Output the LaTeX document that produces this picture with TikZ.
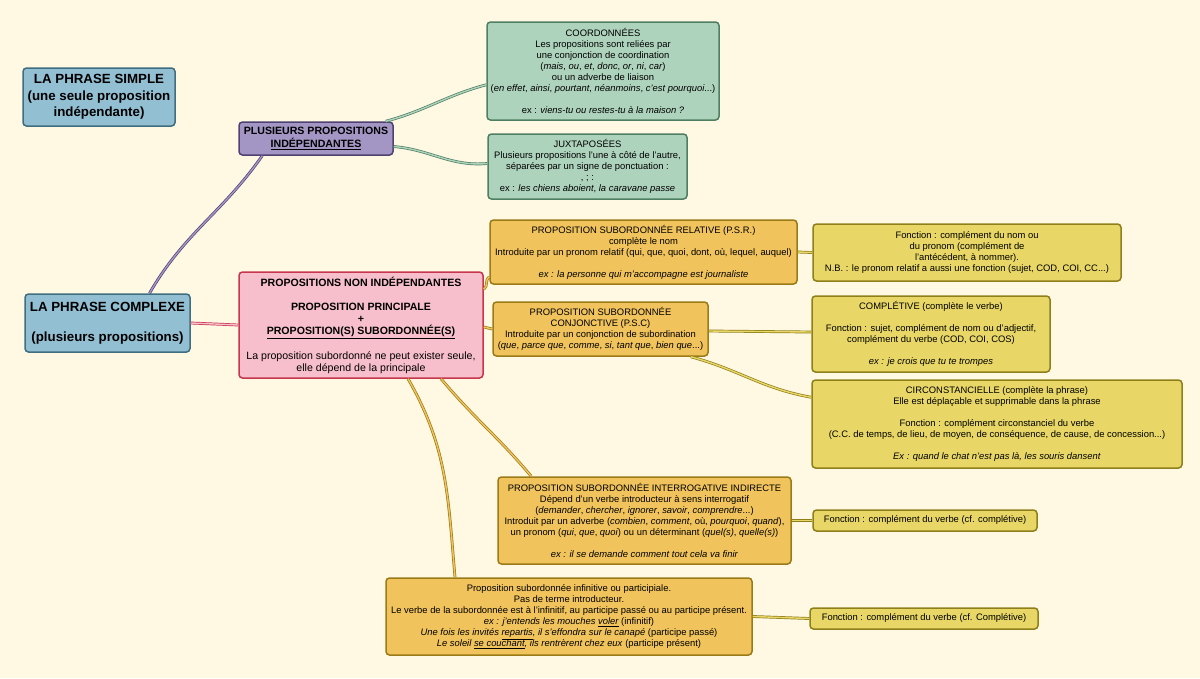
\documentclass[tikz,border=0pt]{standalone}
\usepackage{fontspec}
\setmainfont{Liberation Sans}
\usetikzlibrary{calc}
\definecolor{bgc}{HTML}{FFF8E3}
\definecolor{blueF}{HTML}{93BFD3}\definecolor{blueD}{HTML}{3F6E80}
\definecolor{purF}{HTML}{A496C4}\definecolor{purD}{HTML}{4E4272}
\definecolor{grnF}{HTML}{AED3BC}\definecolor{grnD}{HTML}{4F7F62}
\definecolor{pinkF}{HTML}{F7BFCB}\definecolor{pinkD}{HTML}{C7354F}
\definecolor{orgF}{HTML}{F0C35D}\definecolor{orgD}{HTML}{9B7B17}
\definecolor{yelF}{HTML}{E8D767}\definecolor{yelD}{HTML}{8F7F1A}
\tikzset{
  box/.style={rectangle, rounded corners=3.5pt, line width=1.5pt, inner sep=0pt, align=center,
    font=\fontsize{9.4}{11}\selectfont},
  bluebox/.style={box, fill=blueF, draw=blueD},
  purbox/.style={box, fill=purF, draw=purD},
  grnbox/.style={box, fill=grnF, draw=grnD},
  pinkbox/.style={box, fill=pinkF, draw=pinkD},
  orgbox/.style={box, fill=orgF, draw=orgD},
  yelbox/.style={box, fill=yelF, draw=yelD},
  conn/.style 2 args={draw=#1, double=#2, line width=0.7pt, double distance=1.4pt},
}
\begin{document}
\begin{tikzpicture}[x=1pt,y=-1pt]
\fill[bgc] (0,0) rectangle (1200,678);
\useasboundingbox (0,0) rectangle (1200,678);

\node[bluebox, minimum width=152, minimum height=58, font=\bfseries\fontsize{13.3}{16.5}\selectfont] (simple) at (99,97)
  {LA PHRASE SIMPLE\\(une seule proposition\\indépendante)};

\node[purbox, minimum width=154, minimum height=33, font=\bfseries\fontsize{10.6}{13}\selectfont] (plus) at (316,138.5)
  {PLUSIEURS PROPOSITIONS\\\underline{INDÉPENDANTES}};

\node[grnbox, minimum width=232, minimum height=98] (coord) at (603,71)
  {COORDONNÉES\\Les propositions sont reliées par\\une conjonction de coordination\\
   (\textit{mais}, \textit{ou}, \textit{et}, \textit{donc}, \textit{or}, \textit{ni}, \textit{car})\\
   ou un adverbe de liaison\\
   (\textit{en effet}, \textit{ainsi}, \textit{pourtant}, \textit{néanmoins}, \textit{c'est pourquoi}...)\\[11pt]
   ex : \textit{viens-tu ou restes-tu à la maison ?}};

\node[grnbox, minimum width=199, minimum height=65] (juxt) at (587.5,166.5)
  {JUXTAPOSÉES\\Plusieurs propositions l'une à côté de l'autre,\\séparées par un signe de ponctuation :\\, ; :\\
   ex : \textit{les chiens aboient}, \textit{la caravane passe}};

\node[bluebox, minimum width=165, minimum height=58, font=\bfseries\fontsize{13.3}{15.5}\selectfont] (complexe) at (107.5,323)
  {LA PHRASE COMPLEXE\\[15pt](plusieurs propositions)};

\node[pinkbox, minimum width=244, minimum height=106, font=\fontsize{10.6}{12}\selectfont] (nonind) at (361,325)
  {\textbf{PROPOSITIONS NON INDÉPENDANTES}\\[12pt]\textbf{PROPOSITION PRINCIPALE}\\\textbf{+}\\
   \textbf{\underline{PROPOSITION(S) SUBORDONNÉE(S)}}\\[12pt]
   La proposition subordonné ne peut exister seule,\\elle dépend de la principale};

\node[orgbox, minimum width=307, minimum height=64] (psr) at (643.5,252)
  {PROPOSITION SUBORDONNÉE RELATIVE (P.S.R.)\\complète le nom\\
   Introduite par un pronom relatif (qui, que, quoi, dont, où, lequel, auquel)\\[11pt]
   \textit{ex : la personne qui m'accompagne est journaliste}};

\node[orgbox, minimum width=215, minimum height=54] (psc) at (600.5,329)
  {PROPOSITION SUBORDONNÉE\\CONJONCTIVE (P.S.C)\\Introduite par un conjonction de subordination\\
   (\textit{que}, \textit{parce que}, \textit{comme}, \textit{si}, \textit{tant que}, \textit{bien que}...)};

\node[yelbox, minimum width=308, minimum height=57] (relf) at (967,252.5)
  {Fonction : complément du nom ou\\du pronom (complément de\\l'antécédent, à nommer).\\
   N.B. : le pronom relatif a aussi une fonction (sujet, COD, COI, CC...)};

\node[yelbox, minimum width=238, minimum height=76] (compl) at (931,334)
  {COMPLÉTIVE (complète le verbe)\\[11pt]Fonction : sujet, complément de nom ou d'adjectif,\\
   complément du verbe (COD, COI, COS)\\[11pt]\textit{ex : je crois que tu te trompes}};

\node[yelbox, minimum width=370, minimum height=88] (circ) at (997,424)
  {CIRCONSTANCIELLE (complète la phrase)\\Elle est déplaçable et supprimable dans la phrase\\[11pt]
   Fonction : complément circonstanciel du verbe\\
   (C.C. de temps, de lieu, de moyen, de conséquence, de cause, de concession...)\\[11pt]
   \textit{Ex : quand le chat n'est pas là, les souris dansent}};

\node[orgbox, minimum width=293, minimum height=87] (interr) at (644.5,520.5)
  {PROPOSITION SUBORDONNÉE INTERROGATIVE INDIRECTE\\
   Dépend d'un verbe introducteur à sens interrogatif\\
   (\textit{demander}, \textit{chercher}, \textit{ignorer}, \textit{savoir}, \textit{comprendre}...)\\
   Introduit par un adverbe (\textit{combien}, \textit{comment}, où, \textit{pourquoi}, \textit{quand}),\\
   un pronom (\textit{qui}, \textit{que}, \textit{quoi}) ou un déterminant (\textit{quel(s)}, \textit{quelle(s)})\\[11pt]
   \textit{ex : il se demande comment tout cela va finir}};

\node[yelbox, minimum width=224, minimum height=21] (fint) at (925,520.5)
  {Fonction : complément du verbe (cf. complétive)};

\node[orgbox, minimum width=366, minimum height=77] (inf) at (569,616.5)
  {Proposition subordonnée infinitive ou participiale.\\Pas de terme introducteur.\\
   Le verbe de la subordonnée est à l'infinitif, au participe passé ou au participe présent.\\
   \textit{ex : j'entends les mouches \underline{voler}} (infinitif)\\
   \textit{Une fois les invités \underline{repartis}, il s'effondra sur le canapé} (participe passé)\\
   \textit{Le soleil \underline{se couchant}, ils rentrèrent chez eux} (participe présent)};

\node[yelbox, minimum width=228, minimum height=21] (finf) at (924,618.5)
  {Fonction : complément du verbe (cf. Complétive)};

\draw[conn={purD}{purF}] ($(complexe.north)+(42,0)$) to[out=60,in=235] ($(plus.south west)+(24,0)$);
\draw[conn={grnD}{grnF}] ($(plus.north east)+(-8,0)$) to[out=15,in=195] ($(coord.south west)+(0,-36)$);
\draw[conn={grnD}{grnF}] ($(plus.east)+(0,8)$) to[out=-5,in=185] ($(juxt.west)+(0,-3)$);
\draw[conn={pinkD}{pinkF}] (complexe.east) -- (nonind.west);
\draw[conn={orgD}{orgF}] ($(nonind.north east)+(0,18)$) to[out=30,in=210] ($(psr.south west)+(0,-8)$);
\draw[conn={orgD}{orgF}] ($(nonind.east)+(0,2)$) to[out=5,in=185] (psc.west);
\draw[conn={orgD}{orgF}] ($(nonind.south)+(80,0)$) to[out=-50,in=130] ($(interr.north west)+(34,0)$);
\draw[conn={orgD}{orgF}] ($(nonind.south)+(47,0)$) to[out=-60,in=95] ($(inf.north)+(-114,0)$);
\draw[conn={yelD}{yelF}] (psr.east) -- (relf.west);
\draw[conn={yelD}{yelF}] ($(psc.east)+(0,2)$) -- ($(compl.west)+(0,-2)$);
\draw[conn={yelD}{yelF}] ($(psc.south east)+(-18,0)$) to[out=-15,in=170] ($(circ.north west)+(0,18)$);
\draw[conn={yelD}{yelF}] (interr.east) -- (fint.west);
\draw[conn={yelD}{yelF}] (inf.east) -- (finf.west);
\end{tikzpicture}
\end{document}
